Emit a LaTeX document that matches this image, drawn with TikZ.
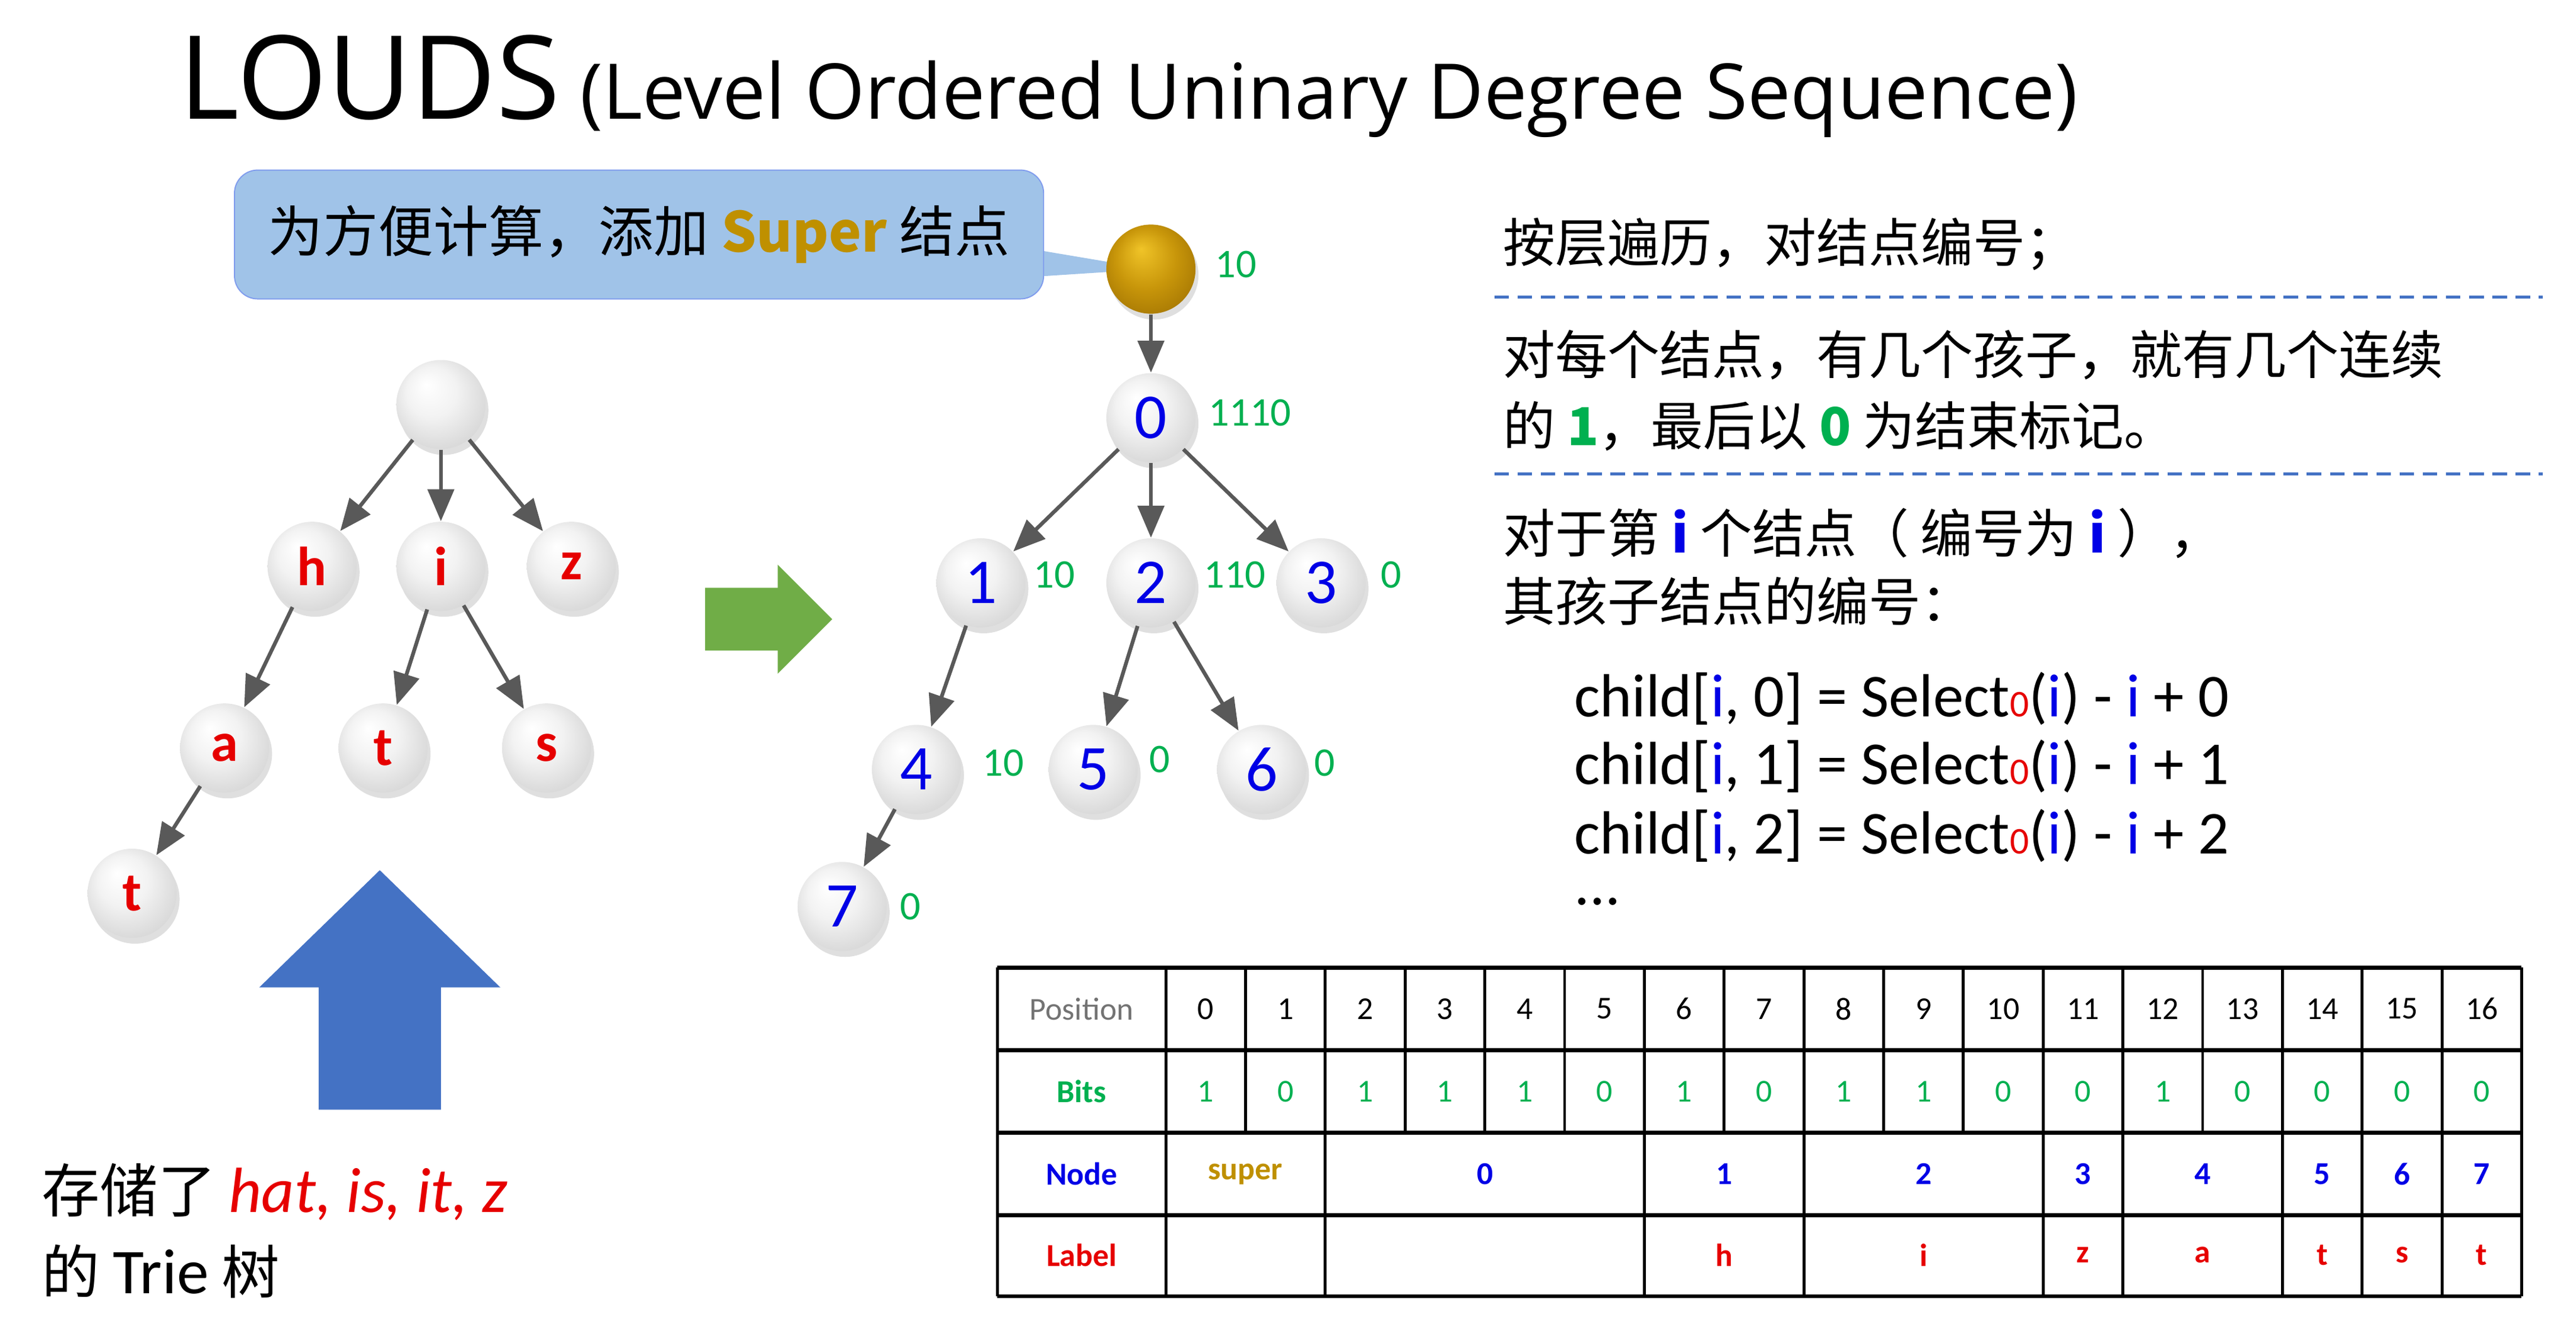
\documentclass[tikz,border=0pt]{standalone}
\usepackage{fontspec}
\setmainfont{Carlito}
\newfontfamily\cjk{Noto Sans CJK SC}
\newfontfamily\ttl{Open Sans}
\usetikzlibrary{arrows.meta,shapes.geometric,shadows}
\definecolor{tgreen}{RGB}{0,176,80}
\definecolor{tblue}{RGB}{0,0,230}
\definecolor{tred}{RGB}{230,0,0}
\definecolor{tgold}{RGB}{191,144,0}
\definecolor{egray}{RGB}{89,89,89}
\definecolor{bblue}{RGB}{68,114,196}
\definecolor{ggreen}{RGB}{112,173,71}
\definecolor{callout}{RGB}{160,195,232}
\definecolor{gold1}{RGB}{240,196,40}
\definecolor{gold2}{RGB}{200,150,10}
\definecolor{gold3}{RGB}{150,105,0}
\pgfdeclareradialshading{greyball}{\pgfpoint{-0.3cm}{0.4cm}}{color(0cm)=(white);color(0.5cm)=(white!90!gray);color(1cm)=(white!70!gray);color(1.3cm)=(white!55!gray)}
\pgfdeclareradialshading{goldball}{\pgfpoint{-0.2cm}{0.4cm}}{color(0cm)=(gold1);color(0.6cm)=(gold2);color(1.3cm)=(gold3)}
\tikzset{
 x=0.02cm,y=-0.02cm,
 ball/.style={circle,minimum size=54*0.02cm,inner sep=0pt,shading=greyball,drop shadow={opacity=0.25,shadow xshift=1pt,shadow yshift=-2pt}},
 gball/.style={ball,shading=goldball},
 lt/.style={ball,text=tred,font=\fontsize{19}{22}\selectfont\bfseries},
 nm/.style={ball,text=tblue,font=\fontsize{22}{24}\selectfont},
 bit/.style={text=tgreen,font=\fontsize{14}{16}\selectfont,anchor=west,inner sep=1pt},
 edge/.style={draw=egray,line width=1.3pt,-{Triangle[length=11pt,width=9pt]}},
 zh/.style={font=\cjk\fontsize{18}{24}\selectfont,anchor=west,inner sep=0pt},
 fm/.style={font=\fontsize{21}{23}\selectfont,anchor=west,inner sep=0pt},
 tc/.style={font=\fontsize{11}{13}\selectfont,inner sep=0pt},
}
\begin{document}
\begin{tikzpicture}
\useasboundingbox (0,0) rectangle (1560,809);
% title
\node[anchor=base west,inner sep=0pt,font=\ttl\fontsize{26.5}{30}\selectfont] (title) at (108,72) {{\fontsize{40}{44}\selectfont LOUDS} (Level Ordered Uninary Degree Sequence)};
% callout
\fill[callout] (620,150) -- (697,163) -- (620,168) -- cycle;
\node[draw=callout!80!blue,fill=callout,rounded corners=8pt,minimum width=490*0.02cm,minimum height=78*0.02cm,inner sep=0pt,font=\cjk\fontsize{19}{22}\selectfont] (callout) at (387,142) {为方便计算，添加 {\color{tgold}\bfseries Super} 结点};
% left tree
\node[ball] (r) at (267,245) {};
\node[lt] (h) at (189,343) {h};
\node[lt] (i) at (267,343) {i};
\node[lt] (z) at (346,343) {z};
\node[lt] (a) at (136,453) {a};
\node[lt] (t1) at (232,453) {t};
\node[lt] (s) at (331,453) {s};
\node[lt] (t2) at (80,541) {t};
\foreach \p/\c in {r/h,r/i,r/z,h/a,i/t1,i/s,a/t2} \draw[edge] (\p) -- (\c);
% right tree
\node[gball] (S) at (697,163) {};
\node[nm] (n0) at (697,253) {0};
\node[nm] (n1) at (594,353) {1};
\node[nm] (n2) at (697,353) {2};
\node[nm] (n3) at (800,353) {3};
\node[nm] (n4) at (555,466) {4};
\node[nm] (n5) at (662,466) {5};
\node[nm] (n6) at (764,466) {6};
\node[nm] (n7) at (510,549) {7};
\foreach \p/\c in {S/n0,n0/n1,n0/n2,n0/n3,n1/n4,n2/n5,n2/n6,n4/n7} \draw[edge] (\p) -- (\c);
\node[bit] (b1) at (734,160) {10};
\node[bit] (b2) at (730,250) {1110};
\node[bit] (b3) at (624,348) {10};
\node[bit] (b4) at (727,348) {110};
\node[bit] (b5) at (834,348) {0};
\node[bit] (b6) at (593,462) {10};
\node[bit] (b7) at (694,460) {0};
\node[bit] (b8) at (794,462) {0};
\node[bit] (b9) at (543,549) {0};
% arrows
\fill[ggreen] (427,356) -- (471,356) -- (471,342) -- (504,375) -- (471,408) -- (471,394) -- (427,394) -- cycle;
\fill[bblue] (193,672) -- (193,598) -- (157,598) -- (230,527) -- (303,598) -- (267,598) -- (267,672) -- cycle;
% bottom-left text
\node[zh,font=\cjk\fontsize{20}{24}\selectfont] (st1) at (25,722) {存储了 {\color{tred}\normalfont\fontsize{22}{24}\selectfont\itshape hat, is, it, z}};
\node[zh,font=\cjk\fontsize{20}{24}\selectfont] (st2) at (25,770) {的 {\normalfont\fontsize{22}{24}\selectfont Trie} 树};
% right texts
\node[zh] (r1) at (910,148) {按层遍历，对结点编号；};
\draw[bblue,line width=1pt,dash pattern=on 5pt off 3pt] (905,180) -- (1540,180);
\node[zh] (r2) at (910,215) {对每个结点，有几个孩子，就有几个连续};
\node[zh] (r3) at (910,258) {的 {\color{tgreen}\bfseries 1}，最后以 {\color{tgreen}\bfseries 0} 为结束标记。};
\draw[bblue,line width=1pt,dash pattern=on 5pt off 3pt] (905,287) -- (1540,287);
\node[zh] (r4) at (910,323) {对于第 {\color{tblue}\bfseries i} 个结点（ 编号为 {\color{tblue}\bfseries i} ），};
\node[zh] (r5) at (910,364) {其孩子结点的编号：};
\foreach \k/\yy in {0/423,1/464,2/506}
 \node[fm] at (953,\yy) {child[{\color{tblue}i}, \k] = Select{\color{tred}\fontsize{13}{14}\selectfont 0}({\color{tblue}i}) - {\color{tblue}i} + \k};
\node[fm,anchor=base west] (dots) at (953,548) {...};
% table
\foreach \yy in {586,636,686,736,785} \draw[line width=1.4pt] (604,\yy) -- (1527,\yy);
\draw[line width=1pt] (604,586) -- (604,785) (706,586) -- (706,785) (1527,586) -- (1527,785);
\foreach \k in {1,...,16} {
  \pgfmathsetmacro\xx{706+\k*48.3}
  \draw[line width=1pt] (\xx,586) -- (\xx,686);
}
\foreach \k in {2,6,8,11,12,14,15,16} {
  \pgfmathsetmacro\xx{706+\k*48.3}
  \draw[line width=1pt] (\xx,686) -- (\xx,785);
}
\node[tc,text=gray!90!black] at (655,611) {Position};
\node[tc,text=tgreen,font=\bfseries\fontsize{11}{13}\selectfont] at (655,661) {Bits};
\node[tc,text=tblue,font=\bfseries\fontsize{11}{13}\selectfont] at (655,711) {Node};
\node[tc,text=tred,font=\bfseries\fontsize{11}{13}\selectfont] at (655,760) {Label};
\foreach \b [count=\k from 0] in {1,0,1,1,1,0,1,0,1,1,0,0,1,0,0,0,0} {
  \pgfmathsetmacro\xx{706+(\k+0.5)*48.3}
  \node[tc] at (\xx,611) {\k};
  \node[tc,text=tgreen] at (\xx,661) {\b};
}
\node[tc,font=\bfseries\fontsize{11}{13}\selectfont,text=tgold] at (754,711) {super};
\foreach \c/\t/\l in {4/0/,7/1/h,9.5/2/i,11.5/3/z,13/4/a,14.5/5/t,15.5/6/s,16.5/7/t} {
  \pgfmathsetmacro\xx{706+\c*48.3}
  \node[tc,font=\bfseries\fontsize{11}{13}\selectfont,text=tblue] at (\xx,711) {\t};
  \node[tc,font=\bfseries\fontsize{11}{13}\selectfont,text=tred] at (\xx,760) {\l};
}
\end{tikzpicture}
\end{document}
